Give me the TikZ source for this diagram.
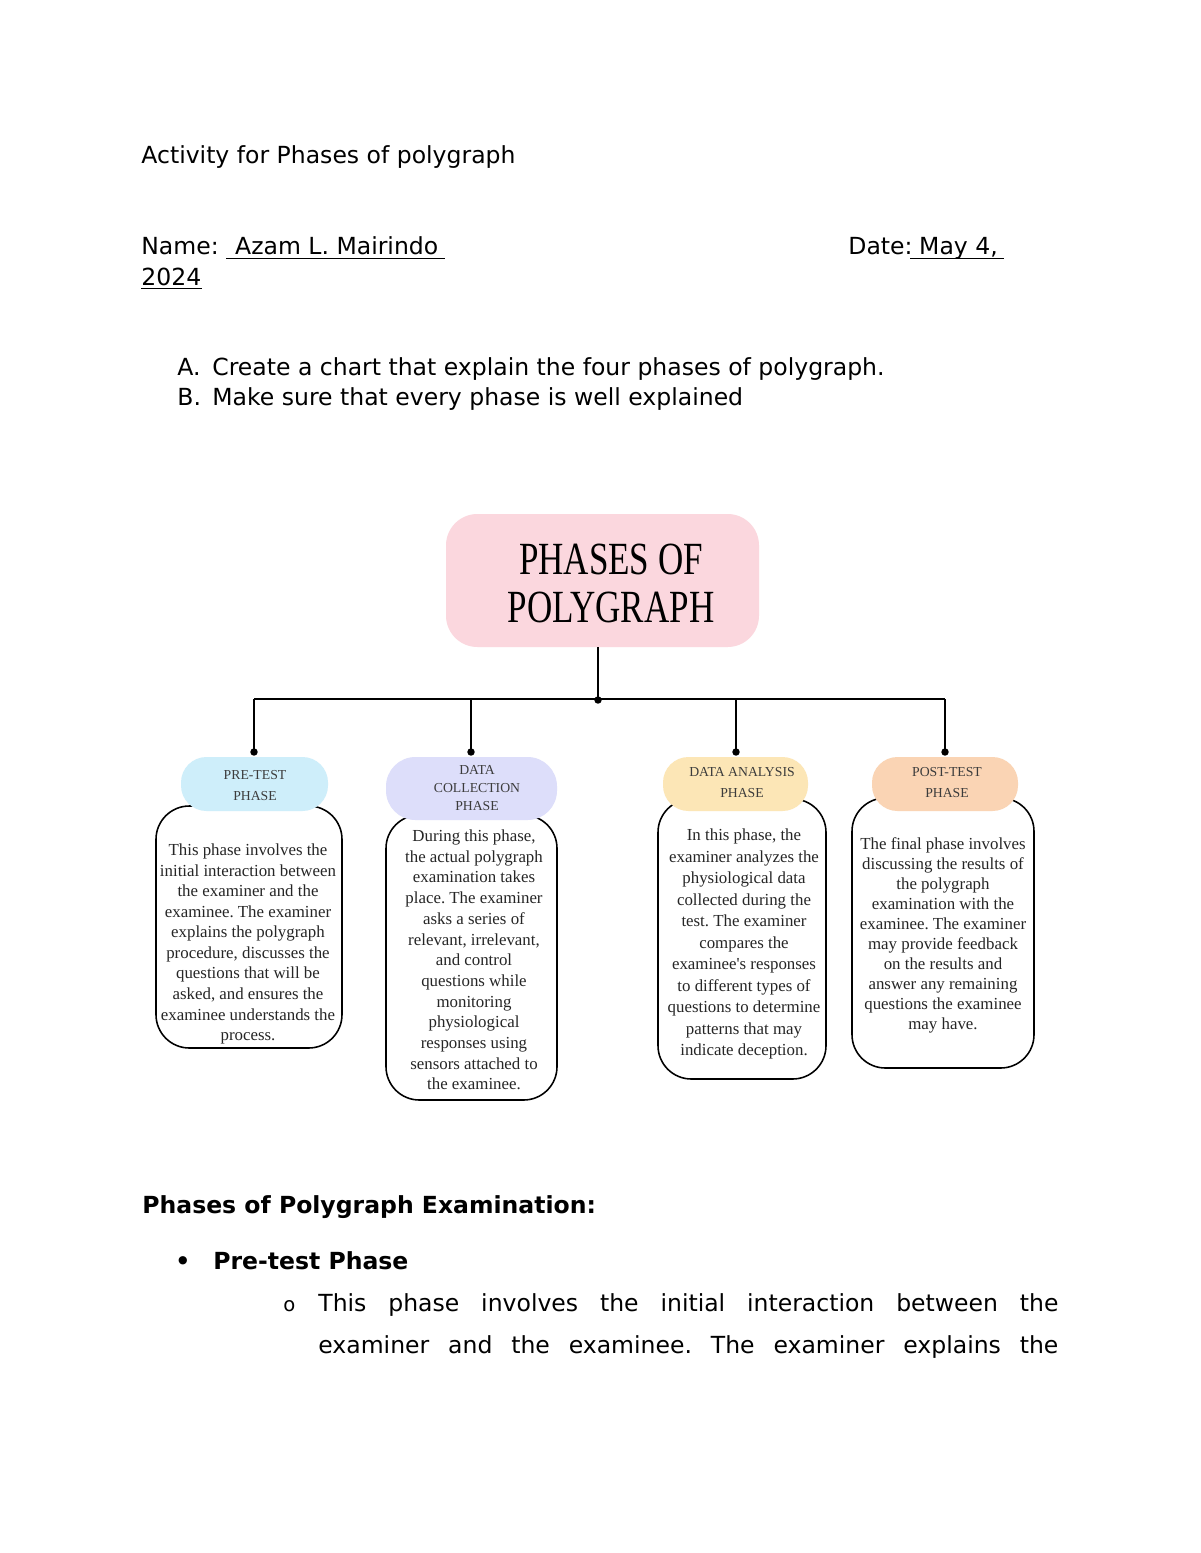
\documentclass[tikz,border=0pt]{standalone}
\usepackage{fontspec}
\usepackage{graphicx}
\setmainfont{DejaVu Sans}
\newfontfamily\chartfont{Liberation Serif}
\definecolor{pinkbox}{RGB}{251,215,222}
\definecolor{blueh}{RGB}{206,238,250}
\definecolor{lavh}{RGB}{221,222,250}
\definecolor{yellh}{RGB}{252,230,182}
\definecolor{peachh}{RGB}{250,212,180}
\definecolor{hdtext}{RGB}{60,60,60}
\frenchspacing
\begin{document}
\begin{tikzpicture}[x=0.51pt,y=-0.51pt,
  doc/.style={anchor=base west,inner sep=0pt,font=\fontsize{12}{14}\selectfont},
  docb/.style={doc,font=\fontsize{12}{14}\selectfont\bfseries},
  ul/.style={line width=0.6pt},
  conn/.style={line width=1pt,black},
  dotm/.style={circle,fill=black,inner sep=0pt,minimum size=3.8pt},
  bodybox/.style={draw=black,line width=0.8pt,fill=white,rounded corners=17pt},
  headbox/.style={draw=none,rounded corners=13pt},
  bodytext/.style={align=center,inner sep=0pt,text=black!85},
  headtext/.style={align=center,inner sep=0pt,text=hdtext,font=\chartfont\fontsize{7}{9.4}\selectfont}]
\useasboundingbox (0,0) rectangle (1200,1553);
\fill[white] (0,0) rectangle (1200,1553);

% ---- document header text
\node[doc] (act) at (141,164) {Activity for Phases of polygraph};
\node[doc] (namel) at (141,255) {Name:};
\node[doc] (namev) at (226,255) {\kern4.5pt Azam L. Mairindo\kern3pt};
\draw[ul] ([yshift=-1.8pt]namev.base west) -- ([yshift=-1.8pt]namev.base east);
\node[doc] (datel) at (848,255) {Date:};
\node[doc] (datev) at (910,255) {\kern4.5pt May 4,\kern3pt};
\draw[ul] ([yshift=-1.8pt]datev.base west) -- ([yshift=-1.8pt]datev.base east);
\node[doc] (year) at (141,285) {2024};
\draw[ul] ([yshift=-1.8pt]year.base west) -- ([yshift=-1.8pt]year.base east);

\node[doc] (la) at (177,375) {A.};
\node[doc] (ta) at (212,375) {Create a chart that explain the four phases of polygraph.};
\node[doc] (lb) at (177,405) {B.};
\node[doc] (tb) at (212,405) {Make sure that every phase is well explained};

% ---- chart
\node[headbox,fill=pinkbox,rounded corners=16pt,minimum width=313*0.51pt,minimum height=133*0.51pt] (title) at (602.5,580.5) {};
\node[inner sep=0pt,align=center,font=\chartfont\fontsize{23.5}{24.5}\selectfont] (titletext) at (611,583)
  {\scalebox{0.76}[1]{PHASES OF}\\\scalebox{0.76}[1]{POLYGRAPH}};

\coordinate (hub) at (598,700);
\coordinate (j1) at (254,699);
\coordinate (j2) at (471,699);
\coordinate (j3) at (736,699);
\coordinate (j4) at (945,699);
\coordinate (d1) at (254,752);
\coordinate (d2) at (471,752);
\coordinate (d3) at (736,752);
\coordinate (d4) at (945,752);
\draw[conn] (title.south -| hub) -- (hub);
\draw[conn] (j1) -- (j4);
\draw[conn] (j1) -- (d1);
\draw[conn] (j2) -- (d2);
\draw[conn] (j3) -- (d3);
\draw[conn] (j4) -- (d4);
\node[dotm] (hubdot) at (hub) {};
\node[dotm] (dot1) at (d1) {};
\node[dotm] (dot2) at (d2) {};
\node[dotm] (dot3) at (d3) {};
\node[dotm] (dot4) at (d4) {};

% bodies
\node[bodybox,minimum width=186*0.51pt,minimum height=242*0.51pt] (b1) at (249,927) {};
\node[bodybox,minimum width=171*0.51pt,minimum height=285*0.51pt] (b2) at (471.5,957.5) {};
\node[bodybox,minimum width=168*0.51pt,minimum height=280*0.51pt] (b3) at (742,939) {};
\node[bodybox,minimum width=182*0.51pt,minimum height=270*0.51pt] (b4) at (943,933) {};

% headers
\node[headbox,fill=blueh,minimum width=147*0.51pt,minimum height=54*0.51pt] (h1) at (254.5,784) {};
\node[headbox,fill=lavh,rounded corners=15pt,minimum width=171*0.51pt,minimum height=63*0.51pt] (h2) at (471.5,788.5) {};
\node[headbox,fill=yellh,minimum width=145*0.51pt,minimum height=54*0.51pt] (h3) at (735.5,784) {};
\node[headbox,fill=peachh,minimum width=146*0.51pt,minimum height=54*0.51pt] (h4) at (945,784) {};

\node[headtext,font=\chartfont\fontsize{7}{10.7}\selectfont] (h1t) at (255,786) {PRE-TEST\\PHASE};
\node[headtext] (h2t) at (477,788) {DATA\\COLLECTION\\PHASE};
\node[headtext,font=\chartfont\fontsize{7}{10.7}\selectfont] (h3t) at (742,783) {DATA ANALYSIS\\PHASE};
\node[headtext,font=\chartfont\fontsize{7}{10.7}\selectfont] (h4t) at (947,783) {POST-TEST\\PHASE};

% body texts
\node[bodytext,font=\chartfont\fontsize{8.6}{10.5}\selectfont] (t1) at (248,944) {This phase involves the\\initial interaction between\\the examiner and the\\examinee. The examiner\\explains the polygraph\\procedure, discusses the\\questions that will be\\asked, and ensures the\\examinee understands the\\process.};
\node[bodytext,font=\chartfont\fontsize{8.6}{10.55}\selectfont] (t2) at (474,960) {During this phase,\\the actual polygraph\\examination takes\\place. The examiner\\asks a series of\\relevant, irrelevant,\\and control\\questions while\\monitoring\\physiological\\responses using\\sensors attached to\\the examinee.};
\node[bodytext,font=\chartfont\fontsize{8.6}{10.96}\selectfont] (t3) at (744,944) {In this phase, the\\examiner analyzes the\\physiological data\\collected during the\\test. The examiner\\compares the\\examinee's responses\\to different types of\\questions to determine\\patterns that may\\indicate deception.};
\node[bodytext,font=\chartfont\fontsize{8.6}{10.2}\selectfont] (t4) at (943,935) {The final phase involves\\discussing the results of\\the polygraph\\examination with the\\examinee. The examiner\\may provide feedback\\on the results and\\answer any remaining\\questions the examinee\\may have.};

% ---- lower text
\node[docb] (sec) at (142,1213) {Phases of Polygraph Examination:};
\node[docb] (bul) at (175,1269) {\textbullet};
\node[docb] (pre) at (213,1269) {Pre-test Phase};
\node[doc,font=\fontsize{10}{12}\selectfont] (obul) at (283,1311) {o};
\node[doc] (l1) at (318,1311) {\makebox[377.4pt][s]{This phase involves the initial interaction between the}};
\node[doc] (l2) at (318,1353) {\makebox[377.4pt][s]{examiner and the examinee. The examiner explains the}};
\end{tikzpicture}
\end{document}
